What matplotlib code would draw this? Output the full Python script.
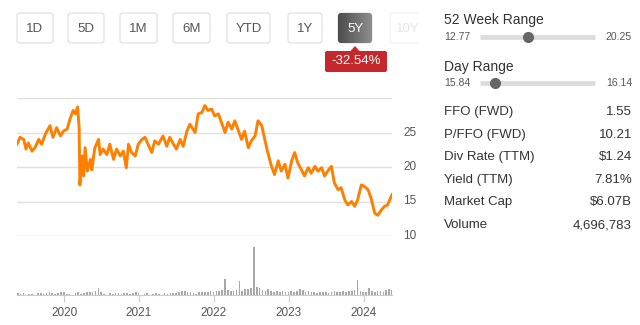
import numpy as np
import matplotlib.pyplot as plt
from matplotlib.colors import LinearSegmentedColormap
from matplotlib.patches import FancyBboxPatch, Polygon, Rectangle

plt.rcParams['font.family'] = ['Liberation Sans', 'DejaVu Sans']

# price history, decimal years
dates = [2019.37, 2019.41, 2019.46, 2019.49, 2019.52, 2019.57, 2019.61, 2019.66, 2019.70, 2019.75,
         2019.81, 2019.85, 2019.90, 2019.95, 2019.99, 2020.04, 2020.08, 2020.12, 2020.15, 2020.18,
         2020.20, 2020.21, 2020.24, 2020.26, 2020.28, 2020.31, 2020.35, 2020.37, 2020.41, 2020.46,
         2020.48, 2020.52, 2020.57, 2020.61, 2020.66, 2020.70, 2020.75, 2020.79, 2020.83, 2020.86,
         2020.90, 2020.95, 2020.99, 2021.04, 2021.08, 2021.12, 2021.17, 2021.21, 2021.26, 2021.32,
         2021.37, 2021.41, 2021.46, 2021.50, 2021.55, 2021.59, 2021.64, 2021.68, 2021.72, 2021.75,
         2021.79, 2021.84, 2021.88, 2021.92, 2021.97, 2022.01, 2022.06, 2022.10, 2022.15, 2022.19,
         2022.24, 2022.28, 2022.32, 2022.37, 2022.41, 2022.46, 2022.50, 2022.55, 2022.59, 2022.64,
         2022.68, 2022.72, 2022.77, 2022.81, 2022.86, 2022.90, 2022.95, 2022.99, 2023.04, 2023.08,
         2023.12, 2023.17, 2023.21, 2023.26, 2023.30, 2023.35, 2023.39, 2023.44, 2023.48, 2023.52,
         2023.57, 2023.61, 2023.66, 2023.70, 2023.75, 2023.79, 2023.84, 2023.88, 2023.92, 2023.97,
         2024.01, 2024.06, 2024.10, 2024.15, 2024.19, 2024.24, 2024.28, 2024.32, 2024.38]
prices = [23.3, 24.3, 24.0, 22.6, 23.5, 22.3, 22.8, 24.0, 23.3, 24.8,
          26.0, 24.3, 25.7, 24.5, 25.2, 25.5, 27.0, 28.2, 27.7, 28.7,
          25.7, 17.4, 21.6, 18.7, 22.8, 19.4, 21.1, 19.6, 22.8, 24.0,
          21.8, 22.6, 21.8, 23.3, 21.1, 22.6, 21.6, 22.3, 19.9, 23.3,
          22.1, 21.6, 23.3, 24.0, 24.3, 23.3, 22.1, 23.8, 23.3, 24.5,
          23.0, 24.3, 23.3, 22.6, 24.0, 23.0, 25.2, 26.2, 25.5, 25.0,
          27.7, 27.9, 28.9, 28.2, 28.4, 27.4, 27.7, 26.5, 25.0, 26.5,
          25.5, 26.7, 25.5, 24.0, 25.2, 22.8, 23.8, 24.5, 26.7, 26.0,
          24.0, 22.1, 20.1, 18.9, 20.9, 19.4, 20.4, 18.4, 20.9, 22.1,
          20.6, 19.6, 18.7, 19.9, 19.1, 20.1, 19.4, 19.9, 18.7, 19.4,
          20.1, 17.7, 16.7, 17.0, 15.2, 14.5, 15.0, 14.3, 15.2, 17.4,
          17.2, 16.7, 15.5, 13.3, 13.0, 13.8, 14.3, 14.5, 16.0]

# volume (millions), one bar every two weeks from 2019.38
vol_start = 2019.38
volumes = [2, 1, 2, 0, 1, 1, 0, 2, 2, 1, 2, 3, 2, 1, 2, 3,
           3, 1, 1, 0, 2, 3, 1, 2, 3, 3, 3, 4, 7,
           3, 1, 0, 2, 1, 2, 2, 1, 2, 2, 1, 2, 3,
           2, 0, 1, 2, 0, 1, 2, 1, 0, 2, 1, 2, 2,
           2, 3, 4, 4, 3, 3, 2, 1, 3, 3, 3, 3, 4,
           3, 4, 4, 5, 16, 5, 4, 4, 5, 14, 4, 6, 6,
           7, 48, 8, 7, 5, 4, 6, 4, 3, 4, 3, 4, 3,
           3, 4, 3, 4, 6, 5, 3, 4, 3, 3, 2, 3, 3,
           3, 2, 3, 4, 3, 3, 4, 3, 4, 4, 5, 15, 4,
           3, 3, 7, 4, 3, 4, 4, 3, 5, 6, 5]
vol_dates = vol_start + np.arange(len(volumes)) / 26

price_ticks = [10, 15, 20, 25, 30]
year_ticks = [2020, 2021, 2022, 2023, 2024]

buttons = ['1D', '5D', '1M', '6M', 'YTD', '1Y', '5Y', '10Y']
active = '5Y'
change = '-32.54%'

week_lo, week_hi = 12.77, 20.25
day_lo, day_hi = 15.84, 16.14
last_price = 15.88
stats = [('FFO (FWD)', '1.55'), ('P/FFO (FWD)', '10.21'), ('Div Rate (TTM)', '$1.24'),
         ('Yield (TTM)', '7.81%'), ('Market Cap', '$6.07B'), ('Volume', '4,696,783')]

W, H = 640, 325
fig = plt.figure(figsize=(W / 100, H / 100), dpi=100)
x0, x1 = 2019.37, 2024.38

# price panel
ax = fig.add_axes([17 / W, 89 / H, 375 / W, 138 / H])
ax.plot(dates, prices, color='#ff7f00', lw=2.1, solid_joinstyle='round')
ax.set_xlim(x0, x1)
ax.set_ylim(10, 30)
for t in price_ticks:
    ax.axhline(t, color='#e0e0e0', lw=1, zorder=0)
ax.set_yticks([])
ax.set_xticks([])
for s in ax.spines.values():
    s.set_visible(False)
ax.patch.set_alpha(0)
for t in price_ticks[:-1]:
    ax.text(1.03, t, str(t), transform=ax.get_yaxis_transform(), ha='left', va='center',
            fontsize=8.5, color='#555555')

# volume panel
axv = fig.add_axes([17 / W, 30 / H, 375 / W, 50 / H])
axv.bar(vol_dates, volumes, width=0.022, color='#a8a8a8', align='center')
axv.set_xlim(x0, x1)
axv.set_ylim(0, 50)
axv.set_yticks([])
axv.set_xticks(year_ticks)
axv.set_xticklabels([str(y) for y in year_ticks], fontsize=8.5, color='#555555')
axv.tick_params(axis='x', length=5, color='#cccccc', pad=4)
for k in ['top', 'left', 'right']:
    axv.spines[k].set_visible(False)
axv.spines['bottom'].set_color('#cccccc')
axv.patch.set_alpha(0)

# UI overlay in pixel coords
ui = fig.add_axes([0, 0, 1, 1])
ui.set_xlim(0, W)
ui.set_ylim(H, 0)
ui.axis('off')
ui.patch.set_alpha(0)

dark = LinearSegmentedColormap.from_list('btn', ['#4c4c4c', '#8e8e8e'])
btn_x = [(17, 53), (68, 104), (120, 157), (173, 210), (227, 270), (288, 322), (338, 372), (390, 426)]
for lab, (a, b) in zip(buttons, btn_x):
    box = FancyBboxPatch((a, 13), b - a, 30, boxstyle='round,pad=0,rounding_size=3',
                         fc='white', ec='#dddddd', lw=0.8)
    if lab == '10Y':
        box.set_edgecolor('#f0f0f0')
    ui.add_patch(box)
    if lab == active:
        grad = np.linspace(0, 1, 50).reshape(1, -1)
        im = ui.imshow(grad, extent=(a, b, 43, 13), cmap=dark, aspect='auto', zorder=2)
        im.set_clip_path(box)
        col = 'white'
    elif lab == '10Y':
        col = '#e6e6e6'
    else:
        col = '#555555'
    ui.text((a + b) / 2, 28.5, lab, ha='center', va='center', fontsize=9.5, color=col, zorder=3)

# change badge
ui.add_patch(FancyBboxPatch((325, 51), 62, 21, boxstyle='round,pad=0,rounding_size=2',
                            fc='#c4282c', ec='none'))
ui.add_patch(Polygon([(350, 51.5), (355, 46), (360, 51.5)], closed=True, fc='#c4282c', ec='none'))
ui.text(356, 61.5, change, ha='center', va='center', fontsize=9.5, color='white')

# white panel hides the cut-off button
ui.add_patch(Rectangle((419, 0), W - 419, H, fc='white', ec='none', zorder=4))

lx, rx = 444, 632
bar_a, bar_b = 480, 595


def range_row(y_title, y_bar, title, lo, hi):
    ui.text(lx, y_title, title, ha='left', va='center', fontsize=10, color='#333333', zorder=5)
    ui.text(lx, y_bar, f'{lo:.2f}', ha='left', va='center', fontsize=7.5, color='#555555', zorder=5)
    ui.text(rx, y_bar, f'{hi:.2f}', ha='right', va='center', fontsize=7.5, color='#555555', zorder=5)
    ui.plot([bar_a, bar_b], [y_bar, y_bar], color='#dddddd', lw=3.5, zorder=5, solid_capstyle='butt')
    frac = (last_price - lo) / (hi - lo)
    ui.plot(bar_a + frac * (bar_b - bar_a), y_bar, 'o', ms=7, color='#666666', zorder=6)


range_row(20, 37, '52 Week Range', week_lo, week_hi)
range_row(67, 83, 'Day Range', day_lo, day_hi)

for i, (k, v) in enumerate(stats):
    y = 112 + i * 22.6
    ui.text(lx, y, k, ha='left', va='center', fontsize=9.5, color='#333333', zorder=5)
    ui.text(rx, y, v, ha='right', va='center', fontsize=9.5, color='#333333', zorder=5)

fig.savefig('out.png', dpi=100)
